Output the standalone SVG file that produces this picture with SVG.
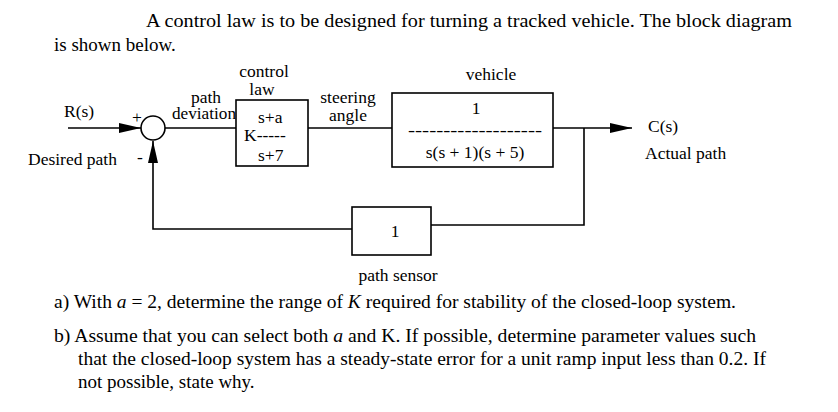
<svg xmlns="http://www.w3.org/2000/svg" width="838" height="412" viewBox="0 0 838 412">
<style>
text{font-family:'Liberation Serif','Times New Roman',serif;fill:#000}
.t{font-size:19px}
.l{font-size:17.5px}
.b{fill:#fff;stroke:#000;stroke-width:1.6}
.c{fill:none;stroke:#000;stroke-width:1.6}
</style>
<defs><marker id="a" markerWidth="24" markerHeight="12" refX="22" refY="6" orient="auto" markerUnits="userSpaceOnUse"><path d="M0,1 L22,6 L0,11Z" fill="#000"/></marker></defs>
<rect width="838" height="412" fill="#fff"/>
<text class="t" x="146" y="27" textLength="646" lengthAdjust="spacingAndGlyphs">A control law is to be designed for turning a tracked vehicle.  The block diagram</text>
<text class="t" x="54" y="51">is shown below.</text>
<g id="connectors">
<path class="c" d="M68,128 H141" marker-end="url(#a)"/>
<path class="c" d="M165,128 H236"/>
<path class="c" d="M308,128 H392"/>
<path class="c" d="M553,128 H632" marker-end="url(#a)"/>
<path class="c" d="M584,128 V225 H431"/>
<path class="c" d="M352,229 H153 V141" marker-end="url(#a)"/>
</g>
<g id="sum"><circle class="b" cx="153" cy="128" r="12"/>
<text class="l" x="132" y="123">+</text><text class="l" x="137" y="163">-</text></g>
<g id="input"><text class="l" x="64" y="117">R(s)</text><text class="l" x="28" y="165">Desired path</text></g>
<g id="labels1"><text class="l" x="206" y="103" text-anchor="middle">path</text><text class="l" x="204" y="119" text-anchor="middle" textLength="64" lengthAdjust="spacingAndGlyphs">deviation</text>
<text class="l" x="348" y="103" text-anchor="middle">steering</text><text class="l" x="348" y="121" text-anchor="middle">angle</text></g>
<g id="control"><rect class="b" x="236" y="100" width="72" height="66"/>
<text class="l" x="264" y="77" text-anchor="middle">control</text><text class="l" x="262" y="95" text-anchor="middle">law</text>
<text class="l" x="258" y="123">s+a</text><text class="l" x="244" y="141">K-----</text><text class="l" x="258" y="161">s+7</text></g>
<g id="vehicle"><rect class="b" x="392" y="93" width="161" height="74"/>
<text class="l" x="491" y="80" text-anchor="middle">vehicle</text>
<text class="l" x="476" y="114" text-anchor="middle">1</text>
<text class="l" x="475" y="136" text-anchor="middle" textLength="134" lengthAdjust="spacingAndGlyphs">-------------------</text>
<text class="l" x="475" y="158" text-anchor="middle">s(s + 1)(s + 5)</text></g>
<g id="output"><text class="l" x="648" y="132">C(s)</text><text class="l" x="645" y="159">Actual path</text></g>
<g id="sensor"><rect class="b" x="352" y="207" width="79" height="48"/>
<text class="l" x="395" y="237" text-anchor="middle">1</text>
<text class="l" x="398" y="281" text-anchor="middle">path sensor</text></g>
<text class="t" x="54" y="308" textLength="682" lengthAdjust="spacingAndGlyphs">a)  With <tspan font-style="italic">a</tspan> = 2, determine the range of <tspan font-style="italic">K</tspan> required for stability of the closed-loop system.</text>
<text class="t" x="54" y="342" textLength="702" lengthAdjust="spacingAndGlyphs">b)  Assume that you can select both <tspan font-style="italic">a</tspan> and K.  If possible, determine parameter values such</text>
<text class="t" x="78" y="365" textLength="688" lengthAdjust="spacingAndGlyphs">that the closed-loop system has a steady-state error for a unit ramp input less than 0.2.  If</text>
<text class="t" x="78" y="388">not possible, state why.</text>
</svg>
